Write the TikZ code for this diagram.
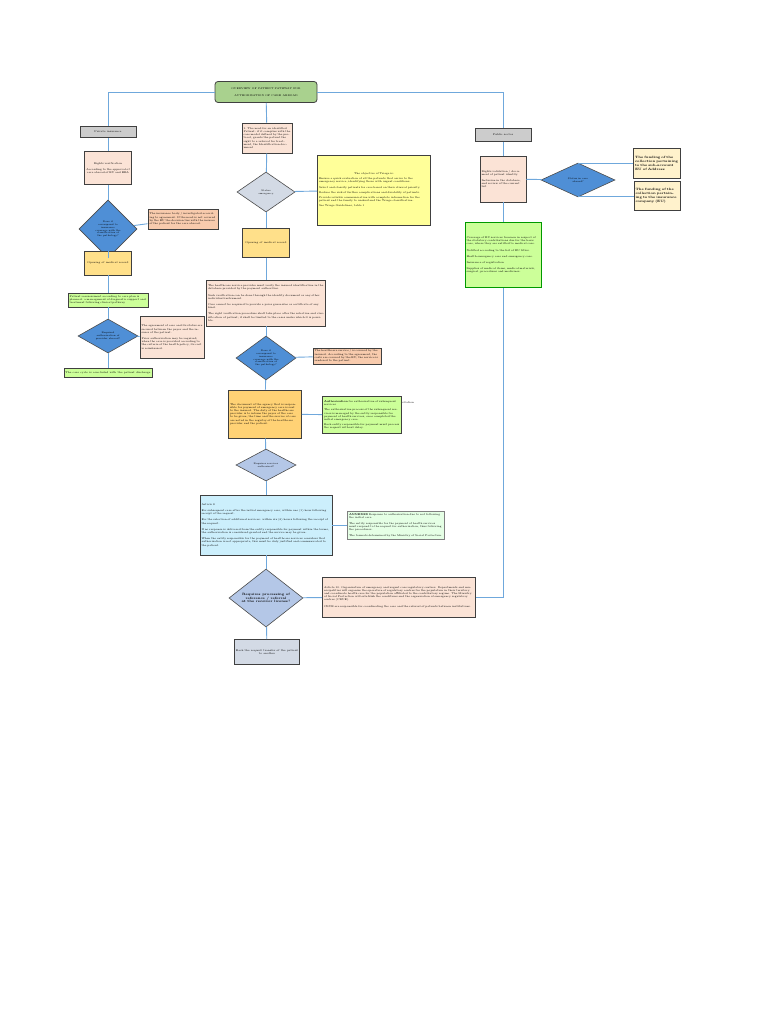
\documentclass[tikz,border=0pt]{standalone}
\usepackage{xcolor}
\usetikzlibrary{shapes.geometric}
\definecolor{line}{HTML}{6FA8DC}
\definecolor{peach}{HTML}{FBE3D6}
\definecolor{lyellow}{HTML}{FFFF99}
\definecolor{gold}{HTML}{FFE08A}
\definecolor{lgreen}{HTML}{CCFF99}
\definecolor{dblue}{HTML}{4F8FD6}
\definecolor{sblue}{HTML}{B4C7E7}
\definecolor{gblue}{HTML}{D3DAE5}
\definecolor{orng}{HTML}{F8CBAD}
\definecolor{cream}{HTML}{FFF2CC}
\definecolor{tgreen}{HTML}{A9D18E}
\begin{document}
\begin{tikzpicture}[x=1pt,y=-1pt,thick,
  txt/.style={font=\fontsize{2.6}{3.2}\selectfont,align=left},
  box/.style={txt,draw=black!75,line width=0.8pt,inner sep=1.5pt},
  dec/.style={diamond,draw=black!70,line width=0.6pt,font=\fontsize{2.4}{2.9}\selectfont,align=center,inner sep=0pt,aspect=1.5},
  conn/.style={draw=line,line width=0.9pt}]
\useasboundingbox (0,0) rectangle (768,1024);
% top
\node[box,fill=tgreen,rounded corners=3pt,minimum width=102pt,minimum height=21pt,align=center] (title) at (266,92) {OVERVIEW OF PATIENT PATHWAY FOR\\[4pt] AUTHORISATION OF CARE ABROAD};
\node[box,fill=black!20,minimum width=56pt,minimum height=11pt,align=center] (priv) at (108,132) {Private insurance};
\node[box,fill=black!20,minimum width=56pt,minimum height=13pt,align=center] (pub) at (503,135) {Public sector};
\node[box,fill=peach,text width=47pt,minimum height=30pt] (id) at (267,138) {1. The need for an identified Patient: if it complies with the care model defined by the protocol, grants the patient the right to a referral for treatment, the Identification document};
% left column
\node[box,fill=peach,text width=44pt,minimum height=33pt,align=center] (rights) at (108,168) {Rights verification\\[3pt] According to the approval of care abroad of EU and EEA};
\node[dec,fill=dblue,minimum width=58pt,minimum height=58pt] (lcov) at (108,229) {Does it\\ correspond to\\ insurance\\ coverage with the\\ classification of\\ the pathology?};
\node[box,fill=orng,text width=67pt,minimum height=20pt] (lnote) at (183,219) {The insurance body / investigated according to agreement. If the need is not covered by the EU the decision lies with the insurer of the patient for the care abroad.};
\node[box,fill=gold,minimum width=47pt,minimum height=24pt] (lrec) at (108,263) {Opening of medical record};
\node[box,fill=lgreen,text width=77pt,minimum height=14pt] (lplan) at (108,300) {Patient reassessment according to care plan is planned: a management of diagnostic support and treatment following clinical pathway};
\node[dec,fill=dblue,minimum width=60pt,minimum height=34pt] (lauth) at (108,336) {Required\\ authorisation of\\ provider abroad?};
\node[box,fill=peach,text width=61pt,minimum height=42pt] (lpay) at (172,337) {The agreement of care and its status are secured between the payer and the insurer of the patient.\\[3pt] Prior authorisation may be required; when the care is provided according to the criteria of the health policy, its cost is reimbursed.};
\node[box,fill=lgreen,minimum width=65pt,minimum height=9pt] (lend) at (108,373) {The care cycle is concluded with the patient discharge};
% centre column
\node[dec,fill=gblue,minimum width=58pt,minimum height=40pt] (emerg) at (266,192) {Status\\ emergency};
\node[box,fill=lyellow,text width=110pt,minimum height=70pt] (obj) at (374,190) {\centering The objective of Triage is:\par\vspace{2pt}\raggedright
Ensure a quick evaluation of all the patients that arrive to the emergency service, identifying those with urgent conditions.\par\vspace{2pt}
Select and classify patients for care based on their clinical priority.\par\vspace{2pt}
Reduce the risk of further complications and disability of patients.\par\vspace{2pt}
Provide reliable communication with complete information for the patient and the family to understand the Triage classification.\par\vspace{2pt}
See Triage Guidelines, table 1};
\node[box,fill=gold,minimum width=47pt,minimum height=29pt] (crec) at (266,243) {Opening of medical record};
\node[box,fill=peach,text width=116pt,minimum height=46pt] (hcs) at (266,303) {The healthcare service provider must verify the insured identification in the database provided by the payment authorities.\par\vspace{3pt}
Such verification can be done through the identity document or any other individual instrument.\par\vspace{3pt}
Care cannot be required to provide a prior guarantee or certificate of any kind.\par\vspace{3pt}
The right verification procedure shall take place after the selection and classification of patient; it shall be limited to the cases under which it is possible.};
\node[dec,fill=dblue,minimum width=60pt,minimum height=44pt] (ccov) at (266,358) {Does it\\ correspond to\\ insurance\\ coverage with the\\ classification of\\ the pathology?};
\node[box,fill=orng,text width=65pt,minimum height=16pt] (cnote) at (347,356) {The healthcare service / is covered by the insured. According to the agreement, the costs are covered by the EU; the service is rendered to the patient.};
\node[box,fill=gold!85!orange,text width=70pt,minimum height=48pt] (doc) at (265,414) {The document of the agency that is responsible for payment of emergency care is sent to the insured. The duty of the healthcare provider is to inform the payer of the care to be given; the time and the service of care are noted in the registry of the healthcare provider and the patient.};
\node[box,fill=lgreen,text width=76pt,minimum height=37pt] (auth) at (362,415) {\textbf{Authorisation} for authorisation of subsequent services\par\vspace{2pt}
The authorisation process of the subsequent services is managed by the entity responsible for payment of health services, once completed the initial emergency care.\par\vspace{2pt}
Each entity responsible for payment must process the request without delay.};
\node[txt] (aside) at (408,403) {citation};
\node[dec,fill=sblue,minimum width=60pt,minimum height=32pt] (ssrv) at (266,465) {Requires services\\ authorised?};
\node[box,fill=cyan!20,text width=129pt,minimum height=60pt] (notif) at (266,525) {Article 8\par\vspace{3pt}
For subsequent care after the initial emergency care, within one (1) hour following receipt of the request.\par\vspace{3pt}
For the selection of additional services: within six (6) hours following the receipt of the request.\par\vspace{3pt}
If no response is delivered from the entity responsible for payment within the terms, the authorisation is considered granted and the service may be given.\par\vspace{3pt}
When the entity responsible for the payment of healthcare services considers that authorisation is not appropriate, this must be duly justified and communicated to the patient.};
\node[box,fill=green!10,draw=black!50,text width=94pt,minimum height=28pt] (resp) at (396,525) {\textbf{ANNEXES} Response to authorisation due to not following the initial care.\par\vspace{3pt}
The entity responsible for the payment of health services must respond to the request for authorisation, thus following the procedures.\par\vspace{2pt}
The formats determined by the Ministry of Social Protection.};
\node[dec,fill=sblue,minimum width=74pt,minimum height=58pt,font=\fontsize{3.2}{3.8}\selectfont\bfseries] (rproc) at (266,598) {Requires processing of\\ reference / referral\\ at the receiver license?};
\node[box,fill=peach,text width=150pt,minimum height=40pt] (art) at (399,597) {Article 10. Organisation of emergency and urgent care regulatory centres. Departments and municipalities will organise the operation of regulatory centres for the population in their territory and coordinate health care for the population affiliated to the contributory regime. The Ministry of Social Protection will establish the conditions and the organisation of emergency regulatory centres (CRUE).\par\vspace{3pt}
CRUE are responsible for coordinating the care and the referral of patients between institutions.};
\node[box,fill=gblue,minimum width=46pt,minimum height=25pt,align=center] (fin) at (267,652) {Each the request transfer of the patient\\ to another};
% right column
\node[box,fill=peach,text width=43pt,minimum height=46pt] (rid) at (503,179) {Rights validation / document of patient identity\par\vspace{3pt} Inclusion in the database, and review of the current list};
\node[dec,fill=dblue,minimum width=74pt,minimum height=34pt] (rdec) at (578,180) {Status in care\\ abroad?};
\node[box,fill=cream,text width=44pt,minimum height=30pt,font=\fontsize{3.2}{4}\selectfont\bfseries] (rb1) at (657,163) {The funding of the collection pertaining to the sub-account EU of Address};
\node[box,fill=cream,text width=43pt,minimum height=29pt,font=\fontsize{3.2}{4}\selectfont\bfseries] (rb2) at (657,196) {The funding of the collection pertaining to the insurance company (EU)};
\node[box,fill=lgreen,draw=green!60!black,text width=73pt,minimum height=65pt] (rcov) at (503,255) {Coverage of EU services foreseen in respect of the statutory contributions due for the basic care, where they are entitled to medical care.\par\vspace{3pt}
Notified according to the list of EU titles.\par\vspace{3pt}
Health emergency care and emergency care.\par\vspace{3pt}
Insurance of registration\par\vspace{3pt}
Supplies of medical items, medical materials, surgical, procedures and medicines.};
% connectors
\draw[conn] (title.west) -| (priv.north);
\draw[conn] (title.east) -| (pub.north);
\draw[conn] (title) -- (id);
\draw[conn] (priv) -- (rights);
\draw[conn] (rights) -- (lcov);
\draw[conn] (lcov) -- (lnote);
\draw[conn] (lcov) -- (lrec);
\draw[conn] (lrec) -- (lplan);
\draw[conn] (lplan) -- (lauth);
\draw[conn] (lauth) -- (lpay);
\draw[conn] (lauth) -- (lend);
\draw[conn] (id) -- (emerg);
\draw[conn] (emerg) -- (obj);
\draw[conn] (emerg) -- (crec);
\draw[conn] (crec) -- (hcs);
\draw[conn] (hcs) -- (ccov);
\draw[conn] (ccov) -- (cnote);
\draw[conn] (ccov) -- (doc);
\draw[conn] (doc) -- (auth);
\draw[conn] (doc) -- (ssrv);
\draw[conn] (ssrv) -- (notif);
\draw[conn] (notif) -- (resp);
\draw[conn] (notif) -- (rproc);
\draw[conn] (rproc) -- (art);
\draw[conn] (rproc) -- (fin);
\draw[conn] (pub) -- (rid);
\draw[conn] (rid) -- (rdec);
\draw[conn] (rdec.north) |- (rb1.west);
\draw[conn] (rdec.south) |- (rb2.west);
\draw[conn] (rid) -- (rcov);
\draw[conn] (rcov.south) |- (art.east);
\end{tikzpicture}
\end{document}
